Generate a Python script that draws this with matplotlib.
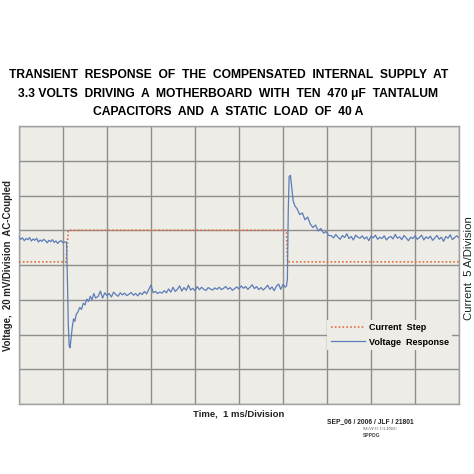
import numpy as np
import matplotlib.pyplot as plt

plt.rcParams['font.family'] = ['Liberation Sans', 'DejaVu Sans']

# all values in scope divisions (x: 1 ms/div, y: 8 divisions)
title_lines = ['TRANSIENT  RESPONSE  OF  THE  COMPENSATED  INTERNAL  SUPPLY  AT',
               '3.3 VOLTS  DRIVING  A  MOTHERBOARD  WITH  TEN  470 \u03bcF  TANTALUM',
               'CAPACITORS  AND  A  STATIC  LOAD  OF  40 A']

# current step (orange dotted)
t_cur = [0.0, 1.07, 1.12, 6.08, 6.10, 10.0]
i_cur = [4.09, 4.09, 5.0, 5.0, 4.09, 4.09]

# voltage response, before the load step
t_v1 = np.round(np.arange(0.0, 1.041, 0.04), 2)
v1 = [4.80, 4.74, 4.78, 4.70, 4.76, 4.73, 4.79, 4.69, 4.75, 4.71, 4.77, 4.66, 4.72, 4.68,
      4.74, 4.70, 4.64, 4.71, 4.67, 4.73, 4.65, 4.69, 4.62, 4.68, 4.70, 4.64, 4.66]

# undershoot and recovery
t_v2 = [1.08, 1.10, 1.12, 1.14, 1.16, 1.18, 1.21, 1.24, 1.27, 1.30, 1.34, 1.38, 1.42, 1.46,
        1.50, 1.54, 1.58, 1.62, 1.66, 1.70, 1.74]
v2 = [4.66, 3.60, 2.30, 1.68, 1.62, 1.85, 2.20, 2.45, 2.38, 2.58, 2.65, 2.78, 2.72, 2.90,
      2.85, 3.02, 2.95, 3.10, 3.00, 3.18, 3.05]

# loaded plateau
t_v3 = np.round(np.arange(1.80, 6.051, 0.05), 2)
v3 = [3.10, 3.25, 3.05, 3.20, 3.12, 3.18, 3.08, 3.22, 3.15, 3.10, 3.20, 3.14, 3.19, 3.12,
      3.16, 3.21, 3.13, 3.18, 3.11, 3.20, 3.15, 3.24, 3.17, 3.30, 3.42, 3.20, 3.24, 3.18,
      3.22, 3.19, 3.26, 3.20, 3.31, 3.22, 3.36, 3.24, 3.30, 3.40, 3.25, 3.35, 3.27, 3.42,
      3.28, 3.33, 3.26, 3.38, 3.29, 3.36, 3.30, 3.27, 3.35, 3.31, 3.28, 3.34, 3.30, 3.36,
      3.29, 3.33, 3.38, 3.30, 3.35, 3.27, 3.32, 3.37, 3.31, 3.40, 3.33, 3.38, 3.30, 3.36,
      3.43, 3.32, 3.38, 3.29, 3.35, 3.28, 3.34, 3.42, 3.30, 3.37, 3.26, 3.39, 3.45, 3.30,
      3.44, 3.36]

# overshoot and decay
t_v4 = [6.08, 6.10, 6.12, 6.14, 6.17, 6.20, 6.23, 6.27, 6.32, 6.38, 6.44, 6.50, 6.56, 6.62,
        6.68, 6.74, 6.80, 6.86, 6.92, 6.98, 7.04]
v4 = [3.40, 3.60, 5.60, 6.55, 6.58, 6.20, 5.85, 5.70, 5.62, 5.45, 5.50, 5.30, 5.38, 5.18,
      5.08, 5.15, 4.98, 5.05, 4.92, 4.96, 4.85]

# unloaded again
t_v5 = np.round(np.arange(7.10, 10.001, 0.05), 2)
v5 = [4.84, 4.78, 4.88, 4.80, 4.74, 4.85, 4.79, 4.90, 4.76, 4.82,
      4.72, 4.86, 4.80, 4.77, 4.84, 4.75, 4.81, 4.70, 4.83, 4.78,
      4.86, 4.74, 4.80, 4.76, 4.84, 4.72, 4.79, 4.82, 4.75, 4.88,
      4.77, 4.81, 4.73, 4.85, 4.78, 4.70, 4.80, 4.76, 4.84, 4.74,
      4.79, 4.86, 4.72, 4.81, 4.76, 4.83, 4.71, 4.78, 4.85, 4.74,
      4.80, 4.68, 4.82, 4.77, 4.87, 4.73, 4.79, 4.84, 4.78]

t_volt = np.concatenate([t_v1, t_v2, t_v3, t_v4, t_v5])
volt = np.concatenate([v1, v2, v3, v4, v5])

bg = '#eeece7'
fig = plt.figure(figsize=(4.74, 4.74), dpi=100)
ax = fig.add_axes([19/474, 1 - 404/474, 440/474, 278/474])
ax.set_facecolor(bg)
ax.set_xlim(0, 10)
ax.set_ylim(0, 8)
ax.set_xticks(np.arange(0, 11))
ax.set_yticks(np.arange(0, 9))
ax.grid(True, color='#8e8e8e', lw=1.0)
ax.set_axisbelow(True)
ax.tick_params(length=0, labelbottom=False, labelleft=False)
for s in ax.spines.values():
    s.set_color('#a0a0a0')
    s.set_linewidth(1.0)

ax.plot(t_cur, i_cur, color='#e0703a', lw=1.2, ls=(0, (1, 1.3)), label='Current  Step', zorder=3)
ax.plot(t_volt, volt, color='#5a7db8', lw=0.9, label='Voltage  Response', zorder=4)

leg = ax.legend(loc='upper left', bbox_to_anchor=(0.69, 0.32), frameon=True, fancybox=False,
                facecolor=bg, edgecolor='none', framealpha=1.0, borderpad=0.4,
                handlelength=3.8, handletextpad=0.4, labelspacing=0.6,
                prop={'size': 6.5, 'weight': 'bold'})
leg.set_zorder(5)

for k, line in enumerate(title_lines):
    fig.text(0.482, 1 - (75 + k * 18.5) / 474, line, ha='center', va='center',
             fontsize=8.7, fontweight='bold')

fig.text(0.017, 0.439, 'Voltage,  20 mV/Division  AC-Coupled', rotation=90,
         ha='center', va='center', fontsize=6.9, fontweight='bold', color='#222222')
fig.text(0.999, 0.435, 'Current  5 A/Division', rotation=90,
         ha='right', va='center', fontsize=8.2, color='#222222')
fig.text(0.504, 0.127, 'Time,  1 ms/Division', ha='center', va='center',
         fontsize=6.8, fontweight='bold', color='#222222')
fig.text(0.781, 0.110, 'SEP_06 / 2006 / JLF / 21801', ha='center', va='center',
         fontsize=4.8, fontweight='bold', color='#222222')
fig.text(0.766, 0.095, 'MAYO CLINIC', ha='left', va='center', fontsize=3.8,
         family='Liberation Serif', color='#555555')
fig.text(0.766, 0.082, 'SPPDG', ha='left', va='center', fontsize=3.6,
         fontweight='bold', color='#444444')

fig.savefig('out.png', dpi=100, facecolor='white')
